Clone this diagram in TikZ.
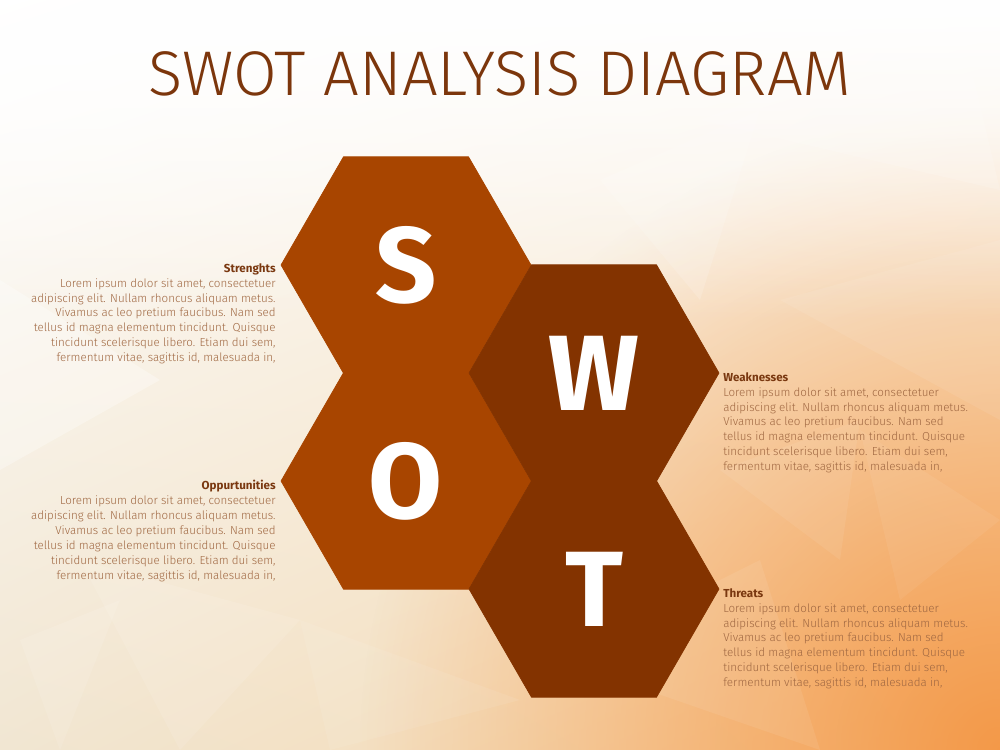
\documentclass[tikz,border=0pt]{standalone}
\usepackage{fontspec}
\setmainfont{Fira Sans}
\newfontfamily\titlefont{Fira Sans Light}
\usepackage{graphicx}
\usetikzlibrary{shapes.geometric, positioning, fadings, shadings}

\definecolor{hexLight}{RGB}{168,69,0}
\definecolor{hexDark}{RGB}{131,51,0}
\definecolor{titleBrown}{RGB}{124,54,12}
\definecolor{headBrown}{RGB}{122,56,16}
\definecolor{bodyBrown}{RGB}{160,104,66}
\definecolor{bgTR}{RGB}{249,244,237}
\definecolor{bgBL}{RGB}{241,230,210}
\definecolor{bgBR}{RGB}{247,214,168}
\definecolor{bgGlow}{RGB}{243,146,62}

\tikzfading[name=cornerglow, inner color=transparent!0, outer color=transparent!100]

\newcommand{\swotlorem}{Lorem ipsum dolor sit amet, consectetuer\\adipiscing elit. Nullam rhoncus aliquam metus.\\Vivamus ac leo pretium faucibus. Nam sed\\tellus id magna elementum tincidunt. Quisque\\tincidunt scelerisque libero. Etiam dui sem,\\fermentum vitae, sagittis id, malesuada in,}

\begin{document}
\begin{tikzpicture}[x=0.02cm, y=-0.02cm,
	hexbox/.style={regular polygon, regular polygon sides=6, minimum size=5cm, inner sep=0pt,
		line width=0.4pt, text=white, font=\fontsize{61}{61}\selectfont\bfseries},
	hexL/.style={hexbox, fill=hexLight, draw=hexLight},
	hexD/.style={hexbox, fill=hexDark, draw=hexDark},
	infoL/.style={align=right, anchor=north east, inner sep=0pt, text=bodyBrown,
		font=\fontsize{6.6}{8.5}\selectfont\titlefont},
	infoR/.style={infoL, align=left, anchor=north west}]
	\useasboundingbox (0,0) rectangle (1000,750);
	% background
	\shade[upper left=white, upper right=bgTR, lower left=bgBL, lower right=bgBR] (0,0) rectangle (1000,750);
	\fill[bgGlow, path fading=cornerglow, fill opacity=0.9] (1000,750) circle (640);
	\fill[white, path fading=south] (0,0) rectangle (1000,320);
	\foreach \ax/\ay/\bx/\by/\cx/\cy/\op in {0/280/160/380/0/470/0.3, 700/120/960/20/1000/190/0.15,
		780/300/1000/240/1000/420/0.08, 560/660/760/560/820/750/0.08, 80/560/300/620/180/750/0.1,
		300/620/520/700/330/750/0.08, 860/430/1000/520/900/600/0.06, 600/180/760/110/700/300/0.15,
		720/470/860/420/840/560/0.07, 20/640/120/600/60/750/0.1}
		\fill[white, opacity=\op] (\ax,\ay) -- (\bx,\by) -- (\cx,\cy) -- cycle;

	% title
	\node[text=titleBrown, inner sep=0pt] (title) at (500,74)
		{\resizebox{400pt}{25pt}{\titlefont SWOT ANALYSIS DIAGRAM}};

	% hexagons
	\node[hexL] (S) at (406,265) {S};
	\node[hexL] (O) at (406,481) {O};
	\node[hexD] (W) at (594,373) {W};
	\node[hexD] (T) at (594,589) {T};

	% texts
	\node[infoL] (strTxt) at (276,263) {\textcolor{headBrown}{\normalfont\bfseries Strenghts}\\\swotlorem};
	\node[infoL] (oppTxt) at (276,480) {\textcolor{headBrown}{\normalfont\bfseries Oppurtunities}\\\swotlorem};
	\node[infoR] (weakTxt) at (723,372) {\textcolor{headBrown}{\normalfont\bfseries Weaknesses}\\\swotlorem};
	\node[infoR] (thrTxt) at (723,588) {\textcolor{headBrown}{\normalfont\bfseries Threats}\\\swotlorem};
\end{tikzpicture}
\end{document}
